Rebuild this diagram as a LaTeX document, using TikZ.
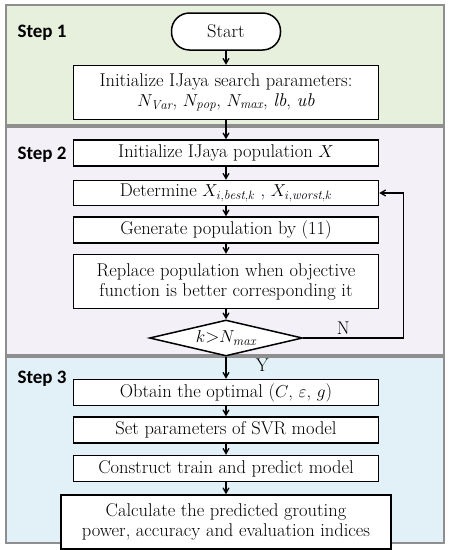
\documentclass[tikz,border=0pt]{standalone}
\usepackage{fontspec}
\newfontfamily\stepfont{Carlito}
\usetikzlibrary{shapes.geometric, arrows, positioning}
\definecolor{stepA}{HTML}{E7F0DD}
\definecolor{stepB}{HTML}{F3F1F7}
\definecolor{stepC}{HTML}{E2F1F7}
\definecolor{panelline}{HTML}{8E8E8E}
\tikzstyle{startstop} = [rectangle, rounded corners=18pt, minimum width=109pt, minimum height=37pt, text centered, draw=black, line width=1.5pt, fill=white, inner sep=2pt]
\tikzstyle{process} = [rectangle, minimum width=305pt, minimum height=26pt, text centered, align=center, draw=black, line width=1.5pt, fill=white, inner sep=2pt]
\tikzstyle{decision} = [diamond, aspect=4.25, minimum width=153pt, minimum height=36pt, text centered, draw=black, line width=1.5pt, fill=white, inner sep=1pt]
\tikzstyle{panel} = [draw=panelline, line width=1.5pt]
\tikzstyle{steplabel} = [anchor=west, font=\stepfont\bfseries\fontsize{19}{22}\selectfont]
\tikzstyle{arrow} = [line width=1.3pt,->,>=angle 60]

\begin{document}
\begin{tikzpicture}[x=1pt, y=1pt, node distance=10pt, font=\fontsize{18.5}{20}\selectfont]
\useasboundingbox (0,0) rectangle (449,-550);

% Step panels
\draw [panel, fill=stepA] (6,-5) rectangle (444,-125);
\draw [panel, fill=stepB] (6,-127) rectangle (444,-355);
\draw [panel, fill=stepC] (6,-357) rectangle (444,-543);
\node (s1) [steplabel] at (14,-33) {Step 1};
\node (s2) [steplabel] at (14,-155) {Step 2};
\node (s3) [steplabel] at (14,-379) {Step 3};

% Step 1
\node (start) [startstop] at (226,-31.5) {Start};
\node (init) [process, minimum height=54pt, below=14pt of start] {Initialize IJaya search parameters:\\ $N_{\mathit{Var}}$, $N_{\mathit{pop}}$, $N_{\mathit{max}}$, $\mathit{lb}$, $\mathit{ub}$};

% Step 2
\node (pop) [process, below=19pt of init] {Initialize IJaya population $X$};
\node (det) [process, minimum height=25pt, below=13pt of pop] {Determine $X_{i,\mathit{best},k}$ , $X_{i,\mathit{worst},k}$};
\node (gen) [process, below=of det] {Generate population by (11)};
\node (rep) [process, minimum height=54pt, below=of gen] {Replace population when objective\\ function is better corresponding it};
\node (dec) [decision, below=of rep] {$k$>$N_{\mathit{max}}$};

% Step 3
\node (opt) [process, below=22pt of dec] {Obtain the optimal ($C$, $\varepsilon$, $g$)};
\node (svr) [process, below=of opt] {Set parameters of SVR model};
\node (cons) [process, below=11pt of svr] {Construct train and predict model};
\node (calc) [process, minimum width=330pt, minimum height=54pt, below=12pt of cons] {Calculate the predicted grouting\\ power, accuracy and evaluation indices};

% Drawing arrows
\draw [arrow] (start) -- (init);
\draw [arrow] (init) -- (pop);
\draw [arrow] (pop) -- (det);
\draw [arrow] (det) -- (gen);
\draw [arrow] (gen) -- (rep);
\draw [arrow] (rep) -- (dec);
\draw [arrow] (dec) -- node[pos=0.4, right=26pt] {Y} (opt);
\draw [arrow] (dec.east) -- node[pos=0.4, above] {N} ++(100,0) |- (det.east);
\draw [arrow] (opt) -- (svr);
\draw [arrow] (svr) -- (cons);
\draw [arrow] (cons) -- (calc);

\end{tikzpicture}
\end{document}
